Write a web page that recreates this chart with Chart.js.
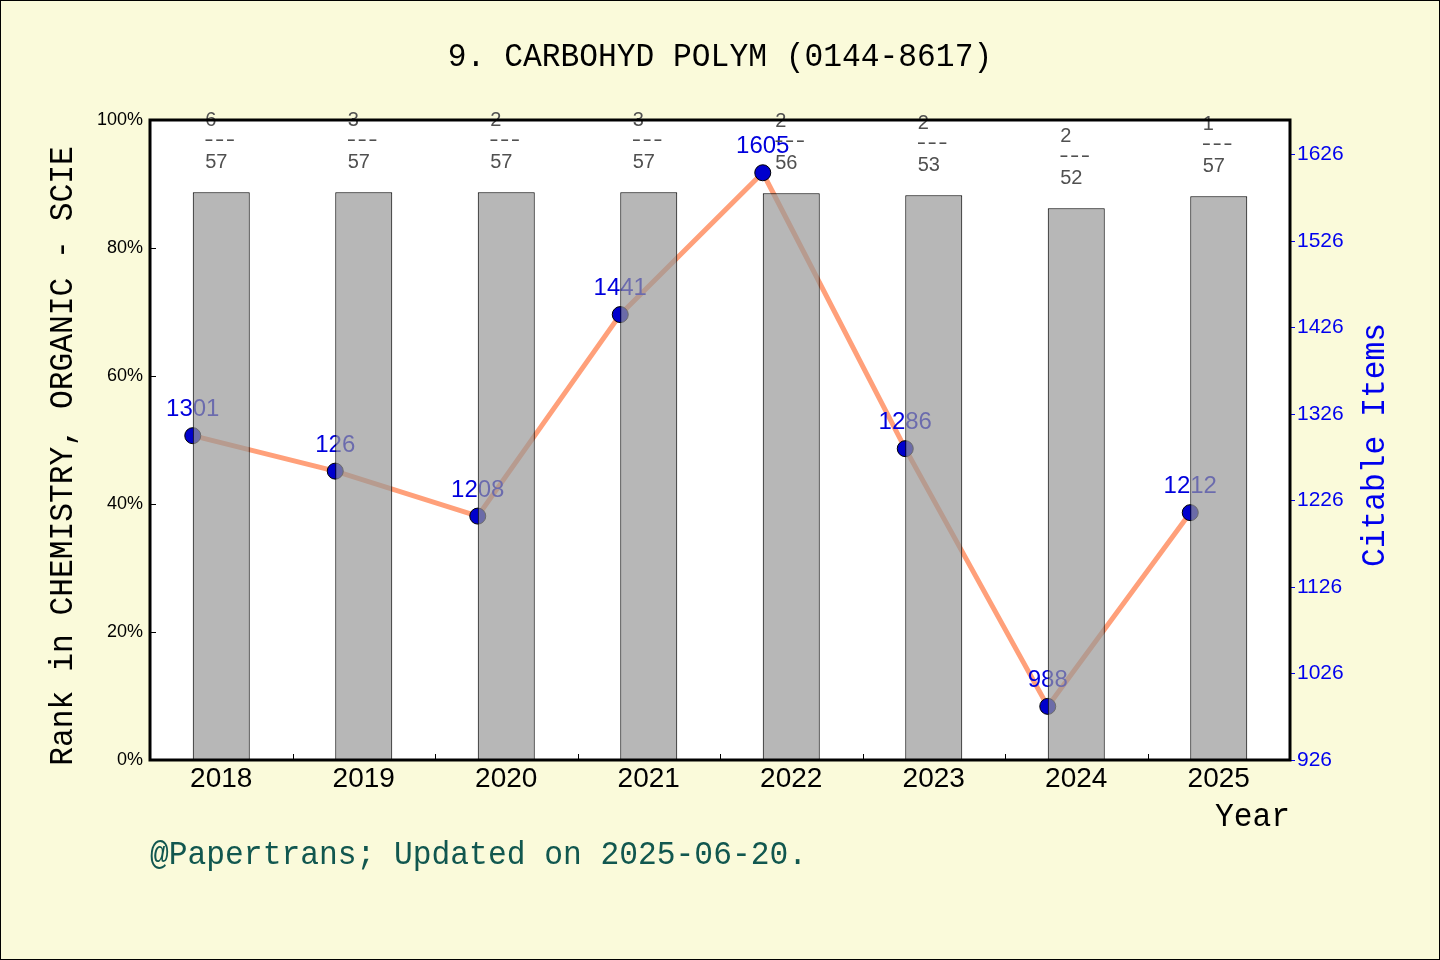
<!DOCTYPE html>
<html>
<head>
<meta charset="utf-8">
<title>CARBOHYD POLYM</title>
<script src="https://cdn.jsdelivr.net/npm/chart.js"></script>
<style>
  html, body { margin: 0; padding: 0; background: #FAFADA; }
  #wrap { width: 1440px; height: 960px; }
</style>
</head>
<body>
<div id="wrap"><canvas id="chart" width="1440" height="960"></canvas></div>
<script>
// values
const years = ['2018', '2019', '2020', '2021', '2022', '2023', '2024', '2025'];
const rankPercent = [88.7, 88.7, 88.7, 88.7, 88.55, 88.25, 86.2, 88.1];
const rankPos = [6, 3, 2, 3, 2, 2, 2, 1];
const rankTotal = [57, 57, 57, 57, 56, 53, 52, 57];
const citable = [1301, 1260, 1208, 1441, 1605, 1286, 988, 1212];
const leftTicks = [0, 20, 40, 60, 80, 100];
const rightTicks = [926, 1026, 1126, 1226, 1326, 1426, 1526, 1626];

const MONO = '"Liberation Mono", "DejaVu Sans Mono", monospace';
const SANS = '"Liberation Sans", Arial, sans-serif';

function txt(ctx, s, x, y, font, color, align, rot, sx){
  ctx.save();
  ctx.translate(x, y);
  if(rot) ctx.rotate(rot);
  ctx.scale(sx || 1, 1);
  ctx.font = font;
  ctx.fillStyle = color;
  ctx.textAlign = align || 'center';
  ctx.textBaseline = 'middle';
  ctx.fillText(s, 0, 0);
  ctx.restore();
}

const decor = {
  id: 'decor',
  beforeDraw: function(chart){
    const ctx = chart.ctx, a = chart.chartArea;
    ctx.save();
    ctx.fillStyle = '#FAFADA';
    ctx.fillRect(0, 0, chart.width, chart.height);
    ctx.strokeStyle = '#000';
    ctx.lineWidth = 1;
    ctx.strokeRect(0.5, 0.5, chart.width - 1, chart.height - 1);
    ctx.fillStyle = '#fff';
    ctx.fillRect(a.left, a.top, a.right - a.left, a.bottom - a.top);
    ctx.restore();
  },
  afterDatasetDraw: function(chart, args){
    // value labels sit under the bars, like in the picture
    if(args.index !== 1) return;
    const ctx = chart.ctx;
    args.meta.data.forEach(function(p, i){
      const s = String(citable[i]).replace(/0+$/, '');
      txt(ctx, s, p.x, p.y - 26, '24px ' + SANS, '#0000DD', 'center');
    });
  },
  afterDraw: function(chart){
    const ctx = chart.ctx, a = chart.chartArea;
    const xs = chart.scales.x, ys = chart.scales.y;
    // rank fractions above the bars
    chart.getDatasetMeta(0).data.forEach(function(b, i){
      const x = b.x - 16;
      txt(ctx, String(rankPos[i]), x, b.y - 72, '20px ' + SANS, '#505050', 'left');
      ctx.save(); ctx.letterSpacing = '1px';
      txt(ctx, '---', x - 1, b.y - 52, '20px ' + SANS, '#505050', 'left', 0, 1.4);
      ctx.restore();
      txt(ctx, String(rankTotal[i]), x, b.y - 30, '20px ' + SANS, '#505050', 'left');
    });
    ctx.save();
    ctx.strokeStyle = '#000';
    ctx.lineWidth = 1;
    ctx.beginPath();
    // inside tick marks on x (category borders) and left axis
    for(let i = 0; i < years.length - 1; i++){
      const x = Math.round((xs.getPixelForValue(i) + xs.getPixelForValue(i + 1)) / 2) + 0.5;
      ctx.moveTo(x, a.bottom); ctx.lineTo(x, a.bottom - 6);
    }
    leftTicks.forEach(function(v){
      const y = Math.round(ys.getPixelForValue(v)) + 0.5;
      ctx.moveTo(a.left, y); ctx.lineTo(a.left + 6, y);
    });
    ctx.stroke();
    ctx.lineWidth = 3;
    ctx.strokeRect(a.left, a.top, a.right - a.left, a.bottom - a.top);
    ctx.restore();

    // titles
    txt(ctx, '9. CARBOHYD POLYM (0144-8617)', 720, 57, '34px ' + MONO, '#000', 'center', 0, 0.92);
    txt(ctx, 'Rank in CHEMISTRY, ORGANIC - SCIE', 63, 456, '34px ' + MONO, '#000', 'center', -Math.PI / 2, 0.92);
    txt(ctx, 'Citable Items', 1375, 445, '34px ' + MONO, '#0000EE', 'center', -Math.PI / 2, 0.92);
    txt(ctx, 'Year', 1290, 817, '34px ' + MONO, '#000', 'right', 0, 0.92);
    txt(ctx, '@Papertrans; Updated on 2025-06-20.', 150, 855, '34px ' + MONO, '#11574F', 'left', 0, 0.92);
  }
};

new Chart('chart', {
  data: {
    labels: years,
    datasets: [{
      type: 'bar',
      data: rankPercent,
      xAxisID: 'x',
      yAxisID: 'y',
      backgroundColor: 'rgba(153,153,153,0.7)',
      borderColor: '#000',
      borderWidth: 1,
      grouped: false,
      categoryPercentage: 1,
      barPercentage: 0.4,
      order: 0
    }, {
      type: 'line',
      data: citable.map(function(v, i){ return {x: i, y: v}; }),
      xAxisID: 'xl',
      yAxisID: 'y2',
      borderColor: '#FFA07A',
      borderWidth: 5,
      pointRadius: 8,
      pointBackgroundColor: '#0000CD',
      pointBorderColor: '#000',
      pointBorderWidth: 1,
      tension: 0,
      order: 1
    }]
  },
  options: {
    responsive: false,
    devicePixelRatio: 1,
    animation: false,
    layout: { padding: { top: 120, left: 0, right: 0, bottom: 0 }, autoPadding: false },
    plugins: {
      legend: { display: false },
      tooltip: { enabled: false },
      title: { display: false }
    },
    scales: {
      x: {
        type: 'category',
        position: 'bottom',
        offset: true,
        grid: { display: false, drawTicks: false },
        border: { display: false },
        ticks: { color: '#000', font: { family: SANS, size: 28 }, padding: 2, maxRotation: 0 },
        afterFit: function(s){ s.height = 200; }
      },
      xl: {
        type: 'linear',
        display: false,
        min: -0.3,
        max: 7.7
      },
      y: {
        position: 'left',
        min: 0,
        max: 100,
        grid: { display: false, drawTicks: false },
        border: { display: false },
        ticks: {
          stepSize: 20,
          color: '#000',
          padding: 7,
          font: { family: SANS, size: 18 },
          callback: function(v){ return v + '%'; }
        },
        afterFit: function(s){ s.width = 150; }
      },
      y2: {
        position: 'right',
        min: 926,
        max: 1666,
        grid: { display: true, drawOnChartArea: false, drawTicks: true, tickLength: 5, color: '#0000EE' },
        border: { display: false },
        ticks: {
          color: '#0000EE',
          padding: 2,
          font: { family: SANS, size: 21 },
          callback: function(v){ return String(v); }
        },
        afterBuildTicks: function(s){ s.ticks = rightTicks.map(function(v){ return {value: v}; }); },
        afterFit: function(s){ s.width = 150; }
      }
    }
  },
  plugins: [decor]
});
</script>
</body>
</html>
